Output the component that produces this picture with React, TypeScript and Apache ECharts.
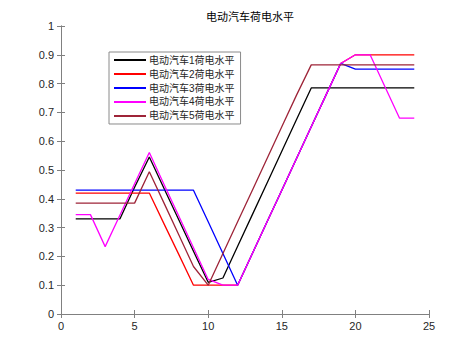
import React, { useEffect, useRef } from "react";
import * as echarts from "echarts";

// Hour of day (x) and state of charge of each EV (y)
const hours = [1, 2, 3, 4, 5, 6, 7, 8, 9, 10, 11, 12, 13, 14, 15, 16, 17, 18, 19, 20, 21, 22, 23, 24];

const ev1 = [0.33, 0.33, 0.33, 0.33, 0.44, 0.545, 0.436, 0.327, 0.218, 0.11, 0.125, 0.235, 0.345, 0.455, 0.565, 0.675, 0.785, 0.785, 0.785, 0.785, 0.785, 0.785, 0.785, 0.785];
const ev2 = [0.42, 0.42, 0.42, 0.42, 0.42, 0.42, 0.313, 0.207, 0.1, 0.1, 0.1, 0.1, 0.21, 0.32, 0.43, 0.54, 0.65, 0.76, 0.87, 0.9, 0.9, 0.9, 0.9, 0.9];
const ev3 = [0.43, 0.43, 0.43, 0.43, 0.43, 0.43, 0.43, 0.43, 0.43, 0.32, 0.21, 0.1, 0.21, 0.32, 0.43, 0.54, 0.65, 0.76, 0.87, 0.85, 0.85, 0.85, 0.85, 0.85];
const ev4 = [0.345, 0.345, 0.234, 0.343, 0.452, 0.561, 0.45, 0.34, 0.23, 0.12, 0.1, 0.1, 0.21, 0.32, 0.43, 0.54, 0.65, 0.76, 0.87, 0.9, 0.9, 0.79, 0.68, 0.68];
const ev5 = [0.385, 0.385, 0.385, 0.385, 0.385, 0.494, 0.385, 0.275, 0.165, 0.1, 0.21, 0.32, 0.43, 0.54, 0.65, 0.76, 0.865, 0.865, 0.865, 0.865, 0.865, 0.865, 0.865, 0.865];

const seriesNames = ["电动汽车1荷电水平", "电动汽车2荷电水平", "电动汽车3荷电水平", "电动汽车4荷电水平", "电动汽车5荷电水平"];
const seriesValues = [ev1, ev2, ev3, ev4, ev5];
const seriesColors = ["#000000", "#ff0000", "#0000ff", "#ff00ff", "#9e2438"];

const FONT = "'Liberation Sans', 'Noto Sans CJK SC', sans-serif";
const AXIS_COLOR = "#808080";
const LABEL_COLOR = "#262626";

export default function App() {
  const ref = useRef<HTMLDivElement>(null);

  useEffect(() => {
    if (!ref.current) return;
    const chart = echarts.init(ref.current, undefined, { renderer: "svg" });

    const axisCommon = {
      axisLine: { show: true, lineStyle: { color: AXIS_COLOR, width: 1 } },
      axisTick: { show: true, inside: true, length: 4, lineStyle: { color: AXIS_COLOR } },
      splitLine: { show: false },
    };

    chart.setOption({
      animation: false,
      backgroundColor: "#ffffff",
      title: {
        text: "电动汽车荷电水平",
        left: 245,
        top: 6,
        textAlign: "center",
        textStyle: { fontFamily: FONT, fontSize: 11, fontWeight: "normal", color: "#000000" },
      },
      legend: {
        orient: "vertical",
        left: 109,
        top: 52,
        padding: [3, 6, 3, 4],
        itemWidth: 32,
        itemHeight: 10,
        itemGap: 4,
        borderColor: "#8a8a8a",
        borderWidth: 1,
        backgroundColor: "#ffffff",
        itemStyle: { opacity: 0 },
        textStyle: { fontFamily: FONT, fontSize: 10, color: LABEL_COLOR, padding: [0, 0, 0, -2] },
        data: seriesNames,
      },
      grid: { left: 61, top: 26, width: 368, height: 288, containLabel: false },
      xAxis: [
        {
          type: "value",
          min: 0,
          max: 25,
          interval: 5,
          position: "bottom",
          ...axisCommon,
          axisLabel: { fontFamily: FONT, fontSize: 11, color: LABEL_COLOR, margin: 6 },
        },
        {
          type: "value",
          min: 0,
          max: 25,
          interval: 5,
          position: "top",
          ...axisCommon,
          axisLabel: { show: false },
        },
      ],
      yAxis: [
        {
          type: "value",
          min: 0,
          max: 1,
          interval: 0.1,
          position: "left",
          ...axisCommon,
          axisLabel: { fontFamily: FONT, fontSize: 11, color: LABEL_COLOR, margin: 7 },
        },
        {
          type: "value",
          min: 0,
          max: 1,
          interval: 0.1,
          position: "right",
          ...axisCommon,
          axisLabel: { show: false },
        },
      ],
      series: seriesNames.map((name, i) => ({
        name,
        type: "line",
        xAxisIndex: 0,
        yAxisIndex: 0,
        symbol: "none",
        lineStyle: { color: seriesColors[i], width: 1.3 },
        itemStyle: { color: seriesColors[i] },
        data: hours.map((h, k) => [h, seriesValues[i][k]]),
      })),
    });

    return () => chart.dispose();
  }, []);

  return (
    <div
      ref={ref}
      style={{ position: "fixed", left: 0, top: 0, width: 474, height: 355, background: "#ffffff" }}
    />
  );
}
